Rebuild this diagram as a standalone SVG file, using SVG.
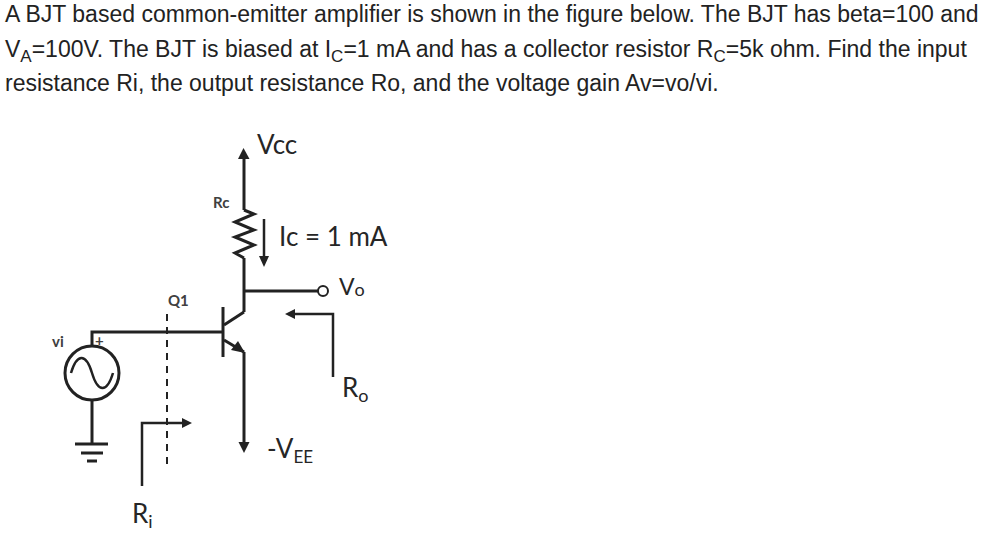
<svg xmlns="http://www.w3.org/2000/svg" width="982" height="533" viewBox="0 0 982 533">
<style>
.q{font-family:"Liberation Sans",Arial,sans-serif;font-size:23px;fill:#222}
.l{font-family:Lato,"Open Sans",sans-serif;fill:#262626}
.b{font-family:Lato,"Open Sans",sans-serif;font-size:15px;font-weight:700;fill:#404040}
.w{fill:none;stroke:#222;stroke-width:3}
.t{fill:none;stroke:#222;stroke-width:2.500}
.h{fill:#222}
</style>
<rect width="982" height="533" fill="#fff"/>
<g id="question">
<text class="q" x="5" y="22">A BJT based common-emitter amplifier is shown in the figure below. The BJT has beta=100 and</text>
<text class="q" x="5" y="57">V<tspan font-size="17" dy="5">A</tspan><tspan dy="-5">=100V. The BJT is biased at I</tspan><tspan font-size="17" dy="5">C</tspan><tspan dy="-5">=1 mA and has a collector resistor R</tspan><tspan font-size="17" dy="5">C</tspan><tspan dy="-5">=5k ohm. Find the input</tspan></text>
<text class="q" x="5" y="91">resistance Ri, the output resistance Ro, and the voltage gain Av=vo/vi.</text>
</g>
<g id="connectors">
<path class="w" d="M244 158V210"/>
<path class="w" d="M244 258V312"/>
<path class="w" d="M244 291H318"/>
<path class="w" d="M92 346V332H223"/>
<path class="w" d="M92 400V444"/>
<path class="w" d="M244 352V443"/>
</g>
<g id="vcc-arrow"><path class="h" d="M243.500 148L249.500 159H238Z"/><text class="l" x="257" y="154" font-size="26">Vcc</text></g>
<g id="rc"><path class="w" d="M244 210L254 214L235 222L254 230L235 237L254 245L235 253L244 258"/><text class="b" x="213" y="208">Rc</text></g>
<g id="ic"><path class="t" d="M264 219V257"/><path class="h" d="M264 267L259 256H269Z"/><text class="l" x="279" y="246" font-size="26">Ic = 1 mA</text></g>
<g id="vo"><circle cx="323" cy="291" r="5" fill="#fff" stroke="#222" stroke-width="2"/><text class="l" x="339" y="295" font-size="23">V<tspan font-size="18" dy="1">o</tspan></text></g>
<g id="q1">
<path class="w" d="M223 307V357"/>
<path class="w" d="M224 325L244 312"/>
<path class="w" d="M224 340L244 352"/>
<path class="h" d="M245 353L231 350L238 341Z"/>
<text class="b" x="168" y="306">Q1</text>
</g>
<g id="vi">
<circle cx="92" cy="373" r="27" fill="#fff" stroke="#222" stroke-width="3"/>
<path class="t" d="M71 373C77 353 86 353 92 373S107 393 113 373"/>
<text class="b" x="52" y="347">vi</text>
<text class="b" x="95" y="346">+</text>
</g>
<g id="ground"><path class="w" d="M75 444H108M81 453H103M87 461H97"/></g>
<g id="vee-arrow"><path class="h" d="M244 453L238.500 442H249.500Z"/><text class="l" x="267" y="458" font-size="26">-V<tspan font-size="17" dy="5">EE</tspan></text></g>
<g id="ro"><path class="t" d="M333 377V314H294"/><path class="h" d="M285 314L295 309V319Z"/><text class="l" x="342" y="397" font-size="26">R<tspan font-size="18" dy="5">o</tspan></text></g>
<g id="ri"><path class="t" d="M142 486V423H183"/><path class="h" d="M192 423L182 418V428Z"/><text class="l" x="132" y="523" font-size="26">R<tspan font-size="18" dy="5">i</tspan></text></g>
<g id="boundary"><path d="M167 314V470" fill="none" stroke="#222" stroke-width="2" stroke-dasharray="7 6"/></g>
</svg>
